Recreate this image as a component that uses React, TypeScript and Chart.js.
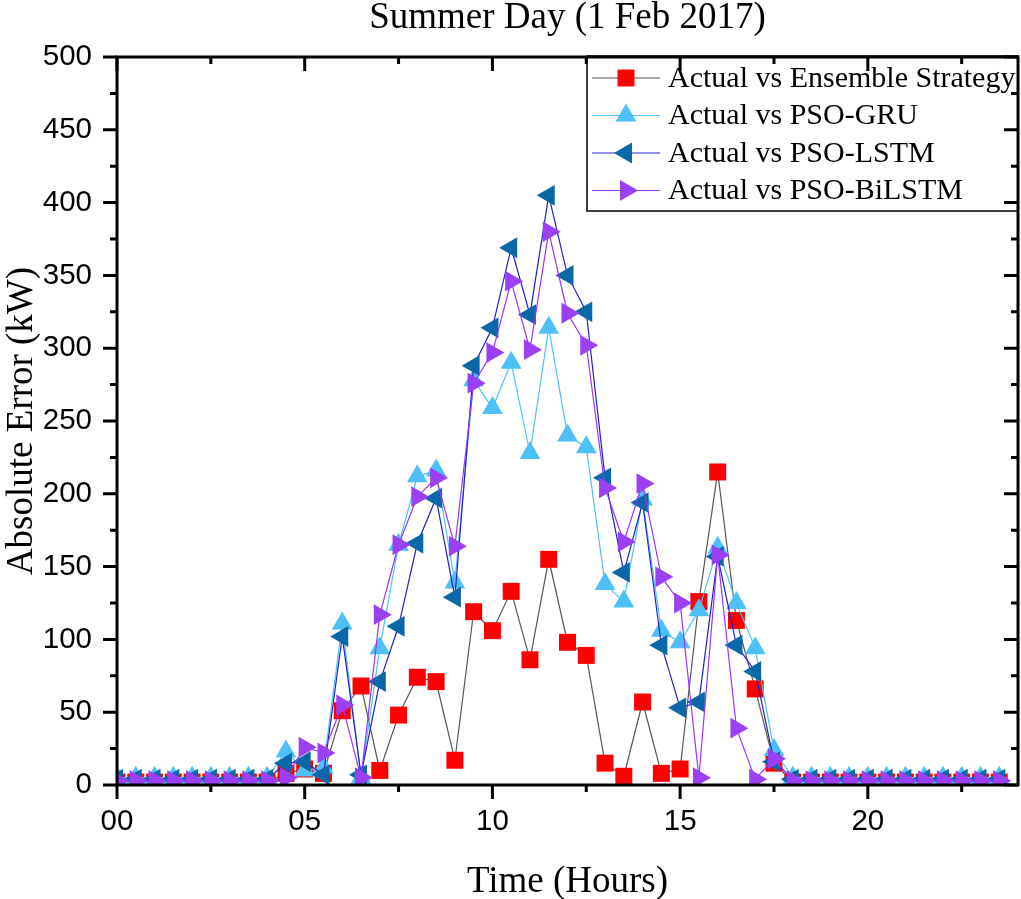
import React, { useEffect, useRef } from 'react';
import { Chart, registerables } from 'chart.js';

Chart.register(...registerables);

const hours = [
  0, 0.5, 1, 1.5, 2, 2.5, 3, 3.5, 4, 4.5, 5, 5.5, 6, 6.5, 7, 7.5, 8, 8.5, 9, 9.5, 10, 10.5, 11, 11.5,
  12, 12.5, 13, 13.5, 14, 14.5, 15, 15.5, 16, 16.5, 17, 17.5, 18, 18.5, 19, 19.5, 20, 20.5, 21, 21.5, 22, 22.5, 23, 23.5,
];

const ensemble = [
  2, 2, 2, 2, 2, 2, 2, 2, 2, 8, 11, 8, 51, 68, 10, 48, 74, 71, 17, 119, 106, 133, 86, 155,
  98, 89, 15, 6, 57, 8, 11, 126, 215, 113, 66, 15, 2, 2, 2, 2, 2, 2, 2, 2, 2, 2, 2, 2,
];

const psoGru = [
  5, 5, 5, 5, 5, 5, 5, 5, 5, 23, 10, 12, 111, 5, 94, 165, 212, 216, 139, 278, 259, 290, 228, 314,
  240, 232, 138, 126, 196, 106, 98, 120, 163, 125, 94, 24, 5, 5, 5, 5, 5, 5, 5, 5, 5, 5, 5, 5,
];

const psoLstm = [
  4, 4, 4, 4, 4, 4, 4, 4, 4, 15, 16, 7, 102, 7, 71, 109, 166, 197, 129, 288, 314, 369, 323, 405,
  350, 325, 211, 146, 194, 96, 53, 57, 157, 96, 78, 16, 4, 4, 4, 4, 4, 4, 4, 4, 4, 4, 4, 4,
];

const psoBiLstm = [
  3, 3, 3, 3, 3, 3, 3, 3, 3, 5, 26, 22, 55, 5, 117, 165, 198, 211, 164, 276, 297, 346, 299, 380,
  324, 302, 204, 167, 207, 143, 125, 5, 158, 39, 4, 18, 3, 3, 3, 3, 3, 3, 3, 3, 3, 3, 3, 3,
];

const seriesNames = [
  'Actual vs Ensemble Strategy',
  'Actual vs PSO-GRU',
  'Actual vs PSO-LSTM',
  'Actual vs PSO-BiLSTM',
];

const xTickValues = [0, 5, 10, 15, 20];
const xTickLabels = ['00', '05', '10', '15', '20'];
const yTickValues = [0, 50, 100, 150, 200, 250, 300, 350, 400, 450, 500];
const yTickLabels = ['0', '50', '100', '150', '200', '250', '300', '350', '400', '450', '500'];

const titleText = 'Summer Day (1 Feb 2017)';
const xTitleText = 'Time (Hours)';
const yTitleText = 'Absolute Error (kW)';

const SERIF = '"Liberation Serif", "Times New Roman", serif';
const SANS = '"Liberation Sans", Arial, sans-serif';

function toPoints(values: number[]) {
  return hours.map((h, i) => ({ x: h, y: values[i] }));
}

function drawMarker(ctx: CanvasRenderingContext2D, style: string, rotation: number, x: number, y: number, r: number, color: string) {
  ctx.save();
  ctx.fillStyle = color;
  ctx.beginPath();
  if (style === 'rect') {
    const s = Math.SQRT1_2 * r;
    ctx.rect(x - s, y - s, 2 * s, 2 * s);
  } else {
    let rad = (rotation * Math.PI) / 180;
    ctx.moveTo(x + Math.sin(rad) * r, y - Math.cos(rad) * r);
    rad += (2 * Math.PI) / 3;
    ctx.lineTo(x + Math.sin(rad) * r, y - Math.cos(rad) * r);
    rad += (2 * Math.PI) / 3;
    ctx.lineTo(x + Math.sin(rad) * r, y - Math.cos(rad) * r);
    ctx.closePath();
  }
  ctx.fill();
  ctx.restore();
}

const framePlugin = {
  id: 'frame',
  afterDraw(chart: any) {
    const { ctx, chartArea } = chart;
    const { left, right, top, bottom } = chartArea;
    const xs = chart.scales.x;
    const ys = chart.scales.y;

    ctx.save();

    // Legend box
    const lw = 431;
    const lh = 155;
    const lx = right - lw;
    const ly = top - 1;
    ctx.fillStyle = '#fff';
    ctx.fillRect(lx, ly, lw, lh);
    ctx.strokeStyle = '#000';
    ctx.lineWidth = 1.5;
    ctx.strokeRect(lx, ly, lw, lh);
    chart.data.datasets.forEach((ds: any, i: number) => {
      const ry = ly + 22 + i * 37.5;
      ctx.strokeStyle = ds.borderColor;
      ctx.lineWidth = 1.2;
      ctx.beginPath();
      ctx.moveTo(lx + 5, ry);
      ctx.lineTo(lx + 73, ry);
      ctx.stroke();
      drawMarker(ctx, ds.pointStyle, ds.pointRotation || 0, lx + 39, ry, 12, ds.pointBackgroundColor);
      ctx.fillStyle = '#000';
      ctx.font = `30px ${SERIF}`;
      ctx.textAlign = 'left';
      ctx.textBaseline = 'middle';
      ctx.fillText(ds.label, lx + 81, ry + 1);
    });

    // Frame
    ctx.strokeStyle = '#000';
    ctx.lineWidth = 3;
    ctx.strokeRect(left, top, right - left, bottom - top);

    const major = 14;
    const minor = 7;
    ctx.lineWidth = 3;
    ctx.beginPath();
    const xStep = xTickValues[1] - xTickValues[0];
    xTickValues.forEach((v) => {
      const px = xs.getPixelForValue(v);
      ctx.moveTo(px, bottom);
      ctx.lineTo(px, bottom + major);
      ctx.moveTo(px, top);
      ctx.lineTo(px, top + major);
      const mv = v + xStep / 2;
      if (mv < xs.max) {
        const mp = xs.getPixelForValue(mv);
        ctx.moveTo(mp, bottom);
        ctx.lineTo(mp, bottom + minor);
        ctx.moveTo(mp, top);
        ctx.lineTo(mp, top + minor);
      }
    });
    const yStep = yTickValues[1] - yTickValues[0];
    yTickValues.forEach((v) => {
      const py = ys.getPixelForValue(v);
      ctx.moveTo(left, py);
      ctx.lineTo(left - major, py);
      ctx.moveTo(right, py);
      ctx.lineTo(right - major, py);
      const mv = v + yStep / 2;
      if (mv < ys.max) {
        const mp = ys.getPixelForValue(mv);
        ctx.moveTo(left, mp);
        ctx.lineTo(left - minor, mp);
        ctx.moveTo(right, mp);
        ctx.lineTo(right - minor, mp);
      }
    });
    ctx.stroke();

    // Titles
    ctx.fillStyle = '#000';
    ctx.font = `37px ${SERIF}`;
    ctx.textAlign = 'center';
    ctx.textBaseline = 'alphabetic';
    ctx.fillText(titleText, (left + right) / 2, 28);
    ctx.fillText(xTitleText, (left + right) / 2, 892);

    ctx.translate(32, (top + bottom) / 2);
    ctx.rotate(-Math.PI / 2);
    ctx.fillText(yTitleText, 0, 0);

    ctx.restore();
  },
};

export default function App() {
  const canvasRef = useRef<HTMLCanvasElement | null>(null);

  useEffect(() => {
    if (!canvasRef.current) return;
    const common = {
      showLine: true,
      tension: 0,
      borderWidth: 1.2,
      pointRadius: 12,
      pointHoverRadius: 12,
      pointBorderWidth: 0,
      clip: 0,
      fill: false,
    };
    const chart = new Chart(canvasRef.current, {
      type: 'line',
      data: {
        datasets: [
          {
            ...common,
            label: seriesNames[0],
            data: toPoints(ensemble),
            borderColor: '#555555',
            backgroundColor: '#ff0000',
            pointBackgroundColor: '#ff0000',
            pointBorderColor: '#ff0000',
            pointStyle: 'rect',
            pointRotation: 0,
            order: 4,
          },
          {
            ...common,
            label: seriesNames[1],
            data: toPoints(psoGru),
            borderColor: '#4fc3f7',
            backgroundColor: '#4fbff7',
            pointBackgroundColor: '#4fbff7',
            pointBorderColor: '#4fbff7',
            pointStyle: 'triangle',
            pointRotation: 0,
            order: 3,
          },
          {
            ...common,
            label: seriesNames[2],
            data: toPoints(psoLstm),
            borderColor: '#2020c8',
            backgroundColor: '#0a67a8',
            pointBackgroundColor: '#0a67a8',
            pointBorderColor: '#0a67a8',
            pointStyle: 'triangle',
            pointRotation: -90,
            order: 2,
          },
          {
            ...common,
            label: seriesNames[3],
            data: toPoints(psoBiLstm),
            borderColor: '#9933ff',
            backgroundColor: '#9b3ff2',
            pointBackgroundColor: '#9b3ff2',
            pointBorderColor: '#9b3ff2',
            pointStyle: 'triangle',
            pointRotation: 90,
            order: 1,
          },
        ] as any,
      },
      options: {
        responsive: false,
        maintainAspectRatio: false,
        animation: false,
        devicePixelRatio: 1,
        layout: { autoPadding: false, padding: { top: 57, right: 3, left: 0, bottom: 0 } },
        plugins: {
          legend: { display: false },
          title: { display: false },
          tooltip: { enabled: false },
        },
        scales: {
          x: {
            type: 'linear',
            min: 0,
            max: 24,
            grid: { display: false, drawTicks: false },
            border: { display: false },
            afterBuildTicks: (s: any) => {
              s.ticks = xTickValues.map((v) => ({ value: v }));
            },
            afterFit: (s: any) => {
              s.height = 114;
              s.paddingLeft = 0;
              s.paddingRight = 0;
            },
            ticks: {
              autoSkip: false,
              maxRotation: 0,
              minRotation: 0,
              padding: 22,
              color: '#000',
              font: { family: SANS, size: 29.5, lineHeight: 1 },
              callback: (_v: any, i: number) => xTickLabels[i],
            },
          },
          y: {
            type: 'linear',
            min: 0,
            max: 500,
            grid: { display: false, drawTicks: false },
            border: { display: false },
            afterBuildTicks: (s: any) => {
              s.ticks = yTickValues.map((v) => ({ value: v }));
            },
            afterFit: (s: any) => {
              s.width = 117;
              s.paddingTop = 0;
              s.paddingBottom = 0;
            },
            ticks: {
              autoSkip: false,
              padding: 25,
              color: '#000',
              font: { family: SANS, size: 29.5, lineHeight: 1 },
              callback: (_v: any, i: number) => yTickLabels[i],
            },
          },
        },
      } as any,
      plugins: [framePlugin],
    });
    return () => chart.destroy();
  }, []);

  return (
    <div style={{ position: 'absolute', left: 0, top: 0, width: 1021, height: 899, background: '#fff' }}>
      <canvas ref={canvasRef} width={1021} height={899} style={{ display: 'block', width: 1021, height: 899 }} />
    </div>
  );
}
